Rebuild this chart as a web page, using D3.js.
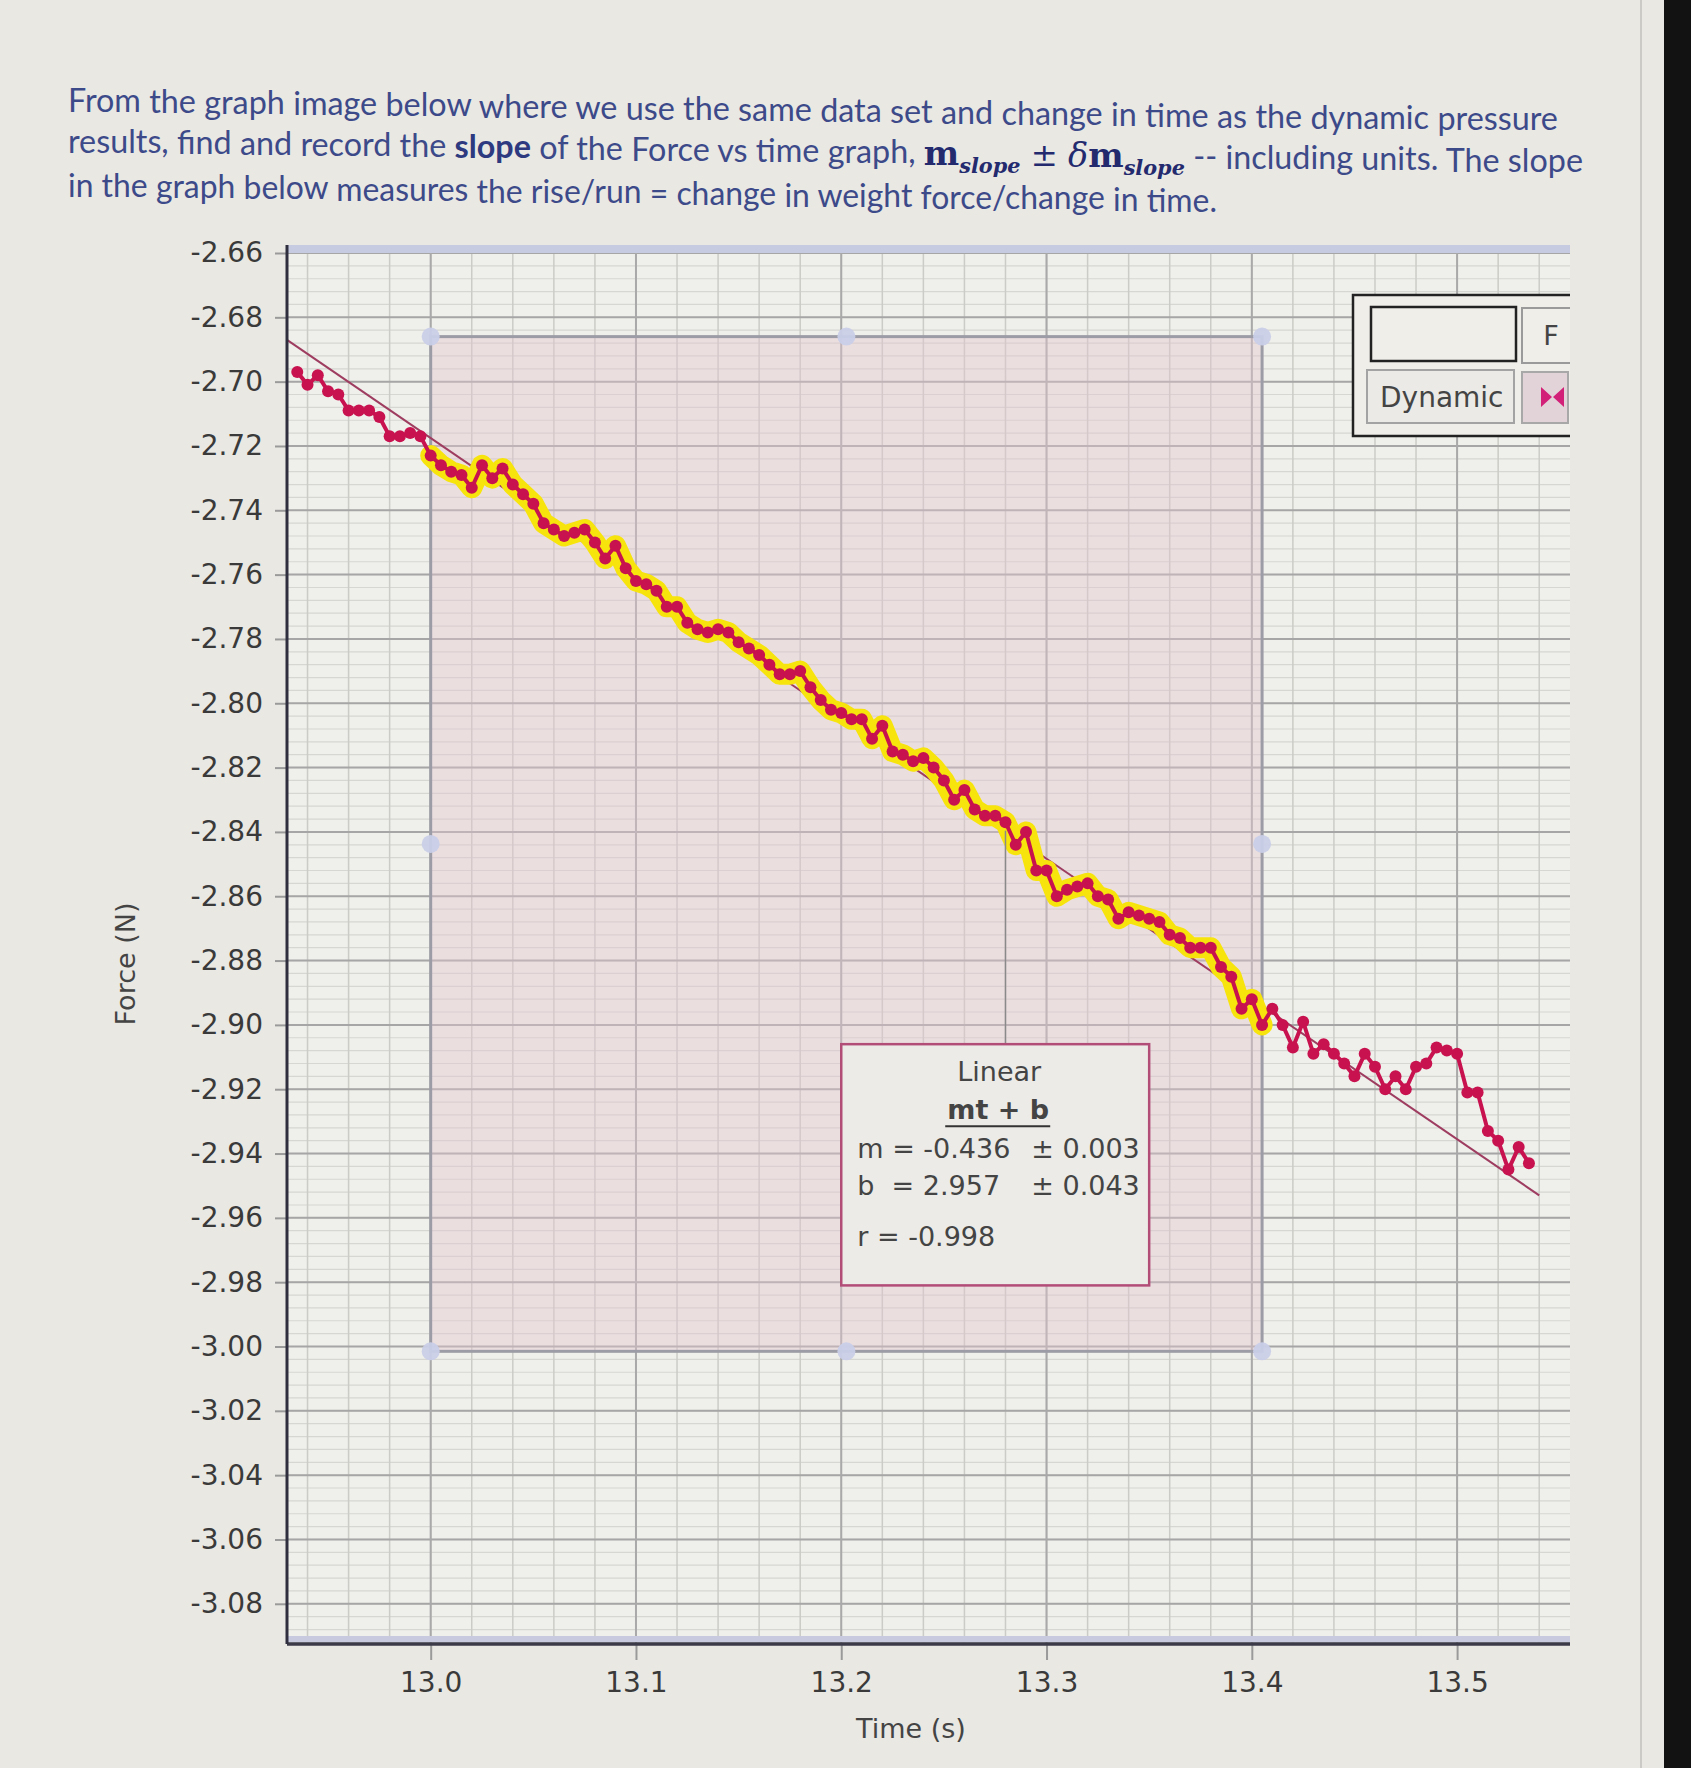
<!DOCTYPE html>
<html lang="en">
<head>
<meta charset="utf-8">
<title>Force vs Time</title>
<script src="https://d3js.org/d3.v7.min.js"></script>
<style>
  body { margin: 0; background: #e9e8e3; }
  svg { display: block; }
  .tick text { font-family: "DejaVu Sans", sans-serif; font-size: 28px; fill: #3a3a3a; }
  .tick line { stroke: #9a9a9a; stroke-width: 2; }
  .label { font-family: "DejaVu Sans", sans-serif; fill: #444; }
</style>
</head>
<body>
<svg id="chart" width="1691" height="1768"></svg>
<script>
// Sample times (s) and force readings (N)
const times = [
  12.935,12.940,12.945,12.950,12.955,12.960,12.965,12.970,12.975,12.980,
  12.985,12.990,12.995,13.000,13.005,13.010,13.015,13.020,13.025,13.030,
  13.035,13.040,13.045,13.050,13.055,13.060,13.065,13.070,13.075,13.080,
  13.085,13.090,13.095,13.100,13.105,13.110,13.115,13.120,13.125,13.130,
  13.135,13.140,13.145,13.150,13.155,13.160,13.165,13.170,13.175,13.180,
  13.185,13.190,13.195,13.200,13.205,13.210,13.215,13.220,13.225,13.230,
  13.235,13.240,13.245,13.250,13.255,13.260,13.265,13.270,13.275,13.280,
  13.285,13.290,13.295,13.300,13.305,13.310,13.315,13.320,13.325,13.330,
  13.335,13.340,13.345,13.350,13.355,13.360,13.365,13.370,13.375,13.380,
  13.385,13.390,13.395,13.400,13.405,13.410,13.415,13.420,13.425,13.430,
  13.435,13.440,13.445,13.450,13.455,13.460,13.465,13.470,13.475,13.480,
  13.485,13.490,13.495,13.500,13.505,13.510,13.515,13.520,13.525,13.530,
  13.535
];
const force = [
  -2.697,-2.701,-2.698,-2.703,-2.704,-2.709,-2.709,-2.709,-2.711,-2.717,
  -2.717,-2.716,-2.717,-2.723,-2.726,-2.728,-2.729,-2.733,-2.726,-2.730,
  -2.727,-2.732,-2.735,-2.738,-2.744,-2.746,-2.748,-2.747,-2.746,-2.750,
  -2.755,-2.751,-2.758,-2.762,-2.763,-2.765,-2.770,-2.770,-2.775,-2.777,
  -2.778,-2.777,-2.778,-2.781,-2.783,-2.785,-2.788,-2.791,-2.791,-2.790,
  -2.795,-2.799,-2.802,-2.803,-2.805,-2.805,-2.811,-2.807,-2.815,-2.816,
  -2.818,-2.817,-2.820,-2.824,-2.830,-2.827,-2.833,-2.835,-2.835,-2.837,
  -2.844,-2.840,-2.852,-2.852,-2.860,-2.858,-2.857,-2.856,-2.860,-2.861,
  -2.867,-2.865,-2.866,-2.867,-2.868,-2.872,-2.873,-2.876,-2.876,-2.876,
  -2.882,-2.885,-2.895,-2.892,-2.900,-2.895,-2.900,-2.907,-2.899,-2.909,
  -2.906,-2.909,-2.912,-2.916,-2.909,-2.913,-2.920,-2.916,-2.920,-2.913,
  -2.912,-2.907,-2.908,-2.909,-2.921,-2.921,-2.933,-2.936,-2.945,-2.938,
  -2.943
];

const yTicks = [-2.66,-2.68,-2.70,-2.72,-2.74,-2.76,-2.78,-2.80,-2.82,-2.84,-2.86,
                -2.88,-2.90,-2.92,-2.94,-2.96,-2.98,-3.00,-3.02,-3.04,-3.06,-3.08];
const xTicks = [13.0, 13.1, 13.2, 13.3, 13.4, 13.5];

// selected region (time range, force range) and the drawn linear fit
const selT = [13.0, 13.405];
const selF = [-3.0015, -2.686];
const fitT = [12.93, 13.54];
const fitF = [-2.687, -2.953];

const statsTitle = ["Linear", "mt + b"];
const statsRows = [["m = -0.436", "± 0.003"], ["b  = 2.957", "± 0.043"]];
const statsR = "r = -0.998";
const legendLabels = ["F", "Dynamic"];

const headerLines = [
  [["From the graph image below where we use the same data set and change in time as the dynamic pressure", "n"]],
  [["results, find and record the ", "n"], ["slope", "b"], [" of the Force vs time graph, ", "n"],
   ["m", "m"], ["slope", "s"], [" ± ", "pm"], ["δ", "d"], ["m", "m"], ["slope", "s"],
   [" -- including units. The slope", "n"]],
  [["in the graph below measures the rise/run = change in weight force/change in time.", "n"]]
];

// ---- setup
const W = 1691, H = 1768;
const plot = { left: 287, right: 1570, top: 253, bottom: 1644 };
const svg = d3.select("#chart");

svg.append("rect").attr("width", W).attr("height", H).attr("fill", "#e9e8e3");
// page edge and monitor bezel on the right
svg.append("line").attr("x1", 1641).attr("x2", 1641).attr("y1", 0).attr("y2", H)
  .attr("stroke", "#cbcac6").attr("stroke-width", 2);
svg.append("rect").attr("x", 1664).attr("y", 0).attr("width", W - 1664).attr("height", H).attr("fill", "#121212");

const x = d3.scaleLinear().domain([12.93, 13.555]).range([plot.left, plot.right]);
const y = d3.scaleLinear().domain([-3.0925, -2.66]).range([plot.bottom, plot.top]);

// ---- header text (the photo is slightly tilted, so each word follows a sloped baseline)
const lineStarts = [112, 153, 197];
const lineWidths = [1490, 1515, 1149];
const tilt = 0.0135, x0 = 68;

function styleSpan(ts, kind) {
  if (kind === "b") ts.style("font-weight", "bold").attr("fill", "#2d3a80");
  if (kind === "m") ts.style("font-family", "'DejaVu Serif', serif").style("font-weight", "bold")
    .style("font-size", "29px").attr("fill", "#232a6e");
  if (kind === "s") ts.style("font-family", "'DejaVu Serif', serif").style("font-style", "italic")
    .style("font-weight", "bold").style("font-size", "18px").attr("fill", "#232a6e");
  if (kind === "pm") ts.style("font-family", "'DejaVu Serif', serif").attr("fill", "#232a6e");
  if (kind === "d") ts.style("font-family", "'DejaVu Serif', serif").style("font-style", "italic")
    .style("font-size", "29px").attr("fill", "#232a6e");
}
function fillText(text, runs) {
  let shifted = false;
  runs.forEach(([s, kind]) => {
    const ts = text.append("tspan").text(s);
    let dy = 0;
    if (kind === "s" && !shifted) { dy = 7; shifted = true; }
    else if (kind !== "s" && shifted) { dy = -7; shifted = false; }
    if (dy) ts.attr("dy", dy);
    styleSpan(ts, kind);
  });
}
const header = svg.append("g");
headerLines.forEach((parts, li) => {
  // measure the whole line once
  const meas = header.append("text").style("white-space", "pre")
    .style("font-family", "Lato, 'Open Sans', sans-serif").style("font-size", "28px");
  fillText(meas, parts);
  const k = lineWidths[li] / meas.node().getComputedTextLength();
  const chars = [];
  parts.forEach(([s, kind]) => { for (const c of s) chars.push({ c, kind }); });
  const pos = chars.map((_, i) => meas.node().getStartPositionOfChar(i).x);
  meas.remove();
  // group characters into words
  const words = [];
  let cur = null;
  chars.forEach((ch, i) => {
    if (ch.c === " ") { cur = null; return; }
    if (!cur) { cur = { start: pos[i], runs: [] }; words.push(cur); }
    const last = cur.runs[cur.runs.length - 1];
    if (last && last[1] === ch.kind) last[0] += ch.c; else cur.runs.push([ch.c, ch.kind]);
  });
  words.forEach(w => {
    const wx = x0 + k * w.start;
    const wy = lineStarts[li] + tilt * (wx - x0);
    const t = header.append("text").attr("transform", `translate(${wx},${wy}) scale(${k})`)
      .style("font-family", "Lato, 'Open Sans', sans-serif").style("font-size", "28px")
      .attr("fill", "#3d4a8a");
    fillText(t, w.runs);
  });
});

// ---- plot background and grid
svg.append("rect").attr("x", plot.left).attr("y", plot.top)
  .attr("width", plot.right - plot.left).attr("height", plot.bottom - plot.top).attr("fill", "#efefeb");

const grid = svg.append("g");
const minorY = d3.range(0, 120).map(i => -2.66 - i * 0.004).filter(v => v >= -3.0925);
const minorX = d3.range(0, 40).map(i => 12.94 + i * 0.02).filter(v => v <= 13.555);

grid.selectAll(".minor-y").data(minorY).enter().append("line")
  .attr("x1", plot.left).attr("x2", plot.right)
  .attr("y1", d => y(d)).attr("y2", d => y(d))
  .attr("stroke", "#d6d6d2").attr("stroke-width", 1.2);
grid.selectAll(".minor-x").data(minorX).enter().append("line")
  .attr("x1", d => x(d)).attr("x2", d => x(d))
  .attr("y1", plot.top).attr("y2", plot.bottom)
  .attr("stroke", "#cbcbc7").attr("stroke-width", 1.5);
grid.selectAll(".major-y").data(yTicks).enter().append("line")
  .attr("x1", plot.left).attr("x2", plot.right)
  .attr("y1", d => y(d)).attr("y2", d => y(d))
  .attr("stroke", "#a6a6a6").attr("stroke-width", 2);
grid.selectAll(".major-x").data(xTicks).enter().append("line")
  .attr("x1", d => x(d)).attr("x2", d => x(d))
  .attr("y1", plot.top).attr("y2", plot.bottom)
  .attr("stroke", "#a9a9a9").attr("stroke-width", 2);

// ---- selected region
const sx0 = x(selT[0]), sx1 = x(selT[1]), sy0 = y(selF[1]), sy1 = y(selF[0]);
svg.append("rect").attr("x", sx0).attr("y", sy0).attr("width", sx1 - sx0).attr("height", sy1 - sy0)
  .attr("fill", "#e5c6d0").attr("opacity", 0.42);
svg.append("rect").attr("x", sx0).attr("y", sy0).attr("width", sx1 - sx0).attr("height", sy1 - sy0)
  .attr("fill", "none").attr("stroke", "#9c9ca6").attr("stroke-width", 3);

// ---- linear fit
svg.append("line")
  .attr("x1", x(fitT[0])).attr("y1", y(fitF[0]))
  .attr("x2", x(fitT[1])).attr("y2", y(fitF[1]))
  .attr("stroke", "#9e3d60").attr("stroke-width", 2);

// ---- data
const pts = times.map((t, i) => ({ t, f: force[i] }));
const sel = pts.filter(d => d.t >= selT[0] && d.t <= selT[1]);
const line = d3.line().x(d => x(d.t)).y(d => y(d.f));

svg.append("path").datum(sel).attr("d", line)
  .attr("fill", "none").attr("stroke", "#f6e40c").attr("stroke-width", 21)
  .attr("stroke-linejoin", "round").attr("stroke-linecap", "round");
svg.append("path").datum(pts).attr("d", line)
  .attr("fill", "none").attr("stroke", "#c8124f").attr("stroke-width", 4);
svg.selectAll(".dot").data(pts).enter().append("circle")
  .attr("cx", d => x(d.t)).attr("cy", d => y(d.f)).attr("r", 6)
  .attr("fill", "#c8124f");

// ---- selection handles
const sxm = (sx0 + sx1) / 2, sym = (sy0 + sy1) / 2;
const handles = [[sx0, sy0], [sxm, sy0], [sx1, sy0], [sx0, sym], [sx1, sym], [sx0, sy1], [sxm, sy1], [sx1, sy1]];
svg.selectAll(".handle").data(handles).enter().append("circle")
  .attr("cx", d => d[0]).attr("cy", d => d[1]).attr("r", 9)
  .attr("fill", "#c9cfe8").attr("opacity", 0.95);

// ---- stats box
const bx0 = x(13.20), bx1 = x(13.35), by0 = y(-2.906), by1 = y(-2.981);
const leadT = 13.28;
const leadF = fitF[0] + (fitF[1] - fitF[0]) * (leadT - fitT[0]) / (fitT[1] - fitT[0]);
svg.append("line").attr("x1", x(leadT)).attr("y1", y(leadF)).attr("x2", x(leadT)).attr("y2", by0)
  .attr("stroke", "#8a8a8a").attr("stroke-width", 1.5);
svg.append("rect").attr("x", bx0).attr("y", by0).attr("width", bx1 - bx0).attr("height", by1 - by0)
  .attr("fill", "#ecebe7").attr("stroke", "#b24d78").attr("stroke-width", 2.5);
const bcx = (bx0 + bx1) / 2;
svg.append("text").attr("class", "label").attr("x", bcx + 4).attr("y", by0 + 37)
  .attr("text-anchor", "middle").style("font-size", "27px").attr("fill", "#333").text(statsTitle[0]);
svg.append("text").attr("class", "label").attr("x", bcx + 3).attr("y", by0 + 75)
  .attr("text-anchor", "middle").style("font-size", "27px").style("font-weight", "bold")
  .attr("fill", "#333").text(statsTitle[1]);
svg.append("line").attr("x1", bcx - 50).attr("x2", bcx + 55).attr("y1", by0 + 82).attr("y2", by0 + 82)
  .attr("stroke", "#333").attr("stroke-width", 2);
statsRows.forEach((r, i) => {
  svg.append("text").attr("class", "label").attr("x", bx0 + 16).attr("y", by0 + 114 + i * 37)
    .attr("xml:space", "preserve").style("white-space", "pre")
    .style("font-size", "27px").attr("fill", "#333").text(r[0]);
  svg.append("text").attr("class", "label").attr("x", bx0 + 190).attr("y", by0 + 114 + i * 37)
    .style("font-size", "27px").attr("fill", "#333").text(r[1]);
});
svg.append("text").attr("class", "label").attr("x", bx0 + 16).attr("y", by0 + 202)
  .style("font-size", "27px").attr("fill", "#333").text(statsR);

// ---- legend (top right)
const lg = svg.append("g");
lg.append("rect").attr("x", 1353).attr("y", 295).attr("width", plot.right - 1353).attr("height", 141)
  .attr("fill", "#efeee9");
lg.append("path").attr("d", `M${plot.right},295 H1353 V436 H${plot.right}`)
  .attr("fill", "none").attr("stroke", "#222").attr("stroke-width", 2.5);
lg.append("rect").attr("x", 1371).attr("y", 307).attr("width", 145).attr("height", 54)
  .attr("fill", "#efeee9").attr("stroke", "#222").attr("stroke-width", 2.5);
lg.append("path").attr("d", `M${plot.right},308 H1522 V363 H${plot.right}`)
  .attr("fill", "none").attr("stroke", "#9a9a9a").attr("stroke-width", 2);
lg.append("text").attr("class", "label").attr("x", 1551).attr("y", 345).attr("text-anchor", "middle")
  .style("font-size", "27px").attr("fill", "#222").text(legendLabels[0]);
lg.append("rect").attr("x", 1367).attr("y", 370).attr("width", 147).attr("height", 53)
  .attr("fill", "#ebeae6").attr("stroke", "#a3a3a3").attr("stroke-width", 2);
lg.append("text").attr("class", "label").attr("x", 1380).attr("y", 407)
  .style("font-size", "28px").attr("fill", "#222").text(legendLabels[1]);
lg.append("rect").attr("x", 1522).attr("y", 372).attr("width", plot.right - 1524).attr("height", 51)
  .attr("fill", "#e2d3d8").attr("stroke", "#a8a8a8").attr("stroke-width", 2);
lg.append("path").attr("d", "M1541,387 L1541,407 L1552,397 Z M1564,387 L1564,407 L1553,397 Z")
  .attr("fill", "#d21f78");

// ---- axes
const yAxis = d3.axisLeft(y).tickValues(yTicks).tickFormat(d => d.toFixed(2)).tickSize(12).tickPadding(12);
svg.append("g").attr("transform", `translate(${plot.left},0)`).call(yAxis)
  .call(g => g.select(".domain").remove());
const xAxis = d3.axisBottom(x).tickValues(xTicks).tickFormat(d => d.toFixed(1)).tickSize(16).tickPadding(12);
svg.append("g").attr("transform", `translate(0,${plot.bottom})`).call(xAxis)
  .call(g => g.select(".domain").remove());

svg.append("rect").attr("x", plot.left).attr("y", plot.top - 8).attr("width", plot.right - plot.left)
  .attr("height", 8).attr("fill", "#c6cbe2");
svg.append("rect").attr("x", plot.left).attr("y", plot.bottom - 8).attr("width", plot.right - plot.left)
  .attr("height", 6).attr("fill", "#c8cae0");
svg.append("line").attr("x1", plot.left).attr("x2", plot.right).attr("y1", plot.bottom).attr("y2", plot.bottom)
  .attr("stroke", "#3a3a48").attr("stroke-width", 3.5);
svg.append("line").attr("x1", plot.left).attr("x2", plot.left).attr("y1", plot.top - 8).attr("y2", plot.bottom)
  .attr("stroke", "#2e2e3e").attr("stroke-width", 3);

svg.append("text").attr("class", "label")
  .attr("transform", "translate(135,964) rotate(-90)")
  .attr("text-anchor", "middle").style("font-size", "27px").text("Force (N)");
svg.append("text").attr("class", "label").attr("x", 911).attr("y", 1738)
  .attr("text-anchor", "middle").style("font-size", "27px").text("Time (s)");
</script>
</body>
</html>
